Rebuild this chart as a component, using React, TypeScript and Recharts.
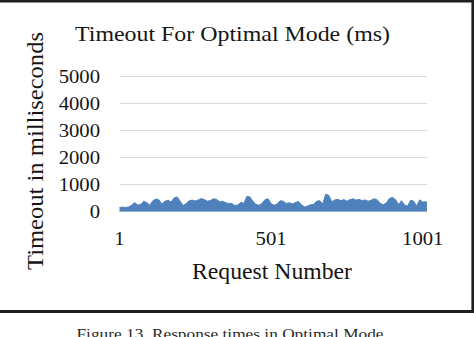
import React from 'react';
import { AreaChart, Area, XAxis, YAxis, CartesianGrid } from 'recharts';

const requestNumbers = [
  1, 11, 21, 31, 41, 51, 61, 71, 81, 91,
  101, 111, 121, 131, 141, 151, 161, 171, 181, 191,
  201, 211, 221, 231, 241, 251, 261, 271, 281, 291,
  301, 311, 321, 331, 341, 351, 361, 371, 381, 391,
  401, 411, 421, 431, 441, 451, 461, 471, 481, 491,
  501, 511, 521, 531, 541, 551, 561, 571, 581, 591,
  601, 611, 621, 631, 641, 651, 661, 671, 681, 691,
  701, 711, 721, 731, 741, 751, 761, 771, 781, 791,
  801, 811, 821, 831, 841, 851, 861, 871, 881, 891,
  901, 911, 921, 931, 941, 951, 961, 971, 981, 991,
  1001, 1011, 1015,
];

const timeoutMs = [
  150, 160, 150, 170, 230, 330, 240, 260, 380, 330,
  230, 400, 460, 430, 280, 380, 420, 350, 500, 540,
  380, 220, 300, 400, 420, 390, 430, 480, 440, 380,
  410, 470, 450, 360, 380, 330, 290, 300, 220, 240,
  340, 300, 560, 540, 380, 260, 230, 300, 440, 470,
  290, 230, 280, 400, 380, 300, 320, 280, 330, 370,
  250, 170, 200, 250, 260, 380, 400, 280, 640, 600,
  360, 430, 450, 400, 440, 380, 440, 470, 420, 450,
  400, 430, 380, 420, 470, 430, 300, 250, 320, 480,
  520, 440, 260, 400, 240, 200, 420, 380, 200, 430,
  350, 360, 340,
];

const xTicks = [1, 501, 1001];
const yTicks = [0, 1000, 2000, 3000, 4000, 5000];

const chartTitle = 'Timeout For Optimal Mode (ms)';
const xAxisTitle = 'Request Number';
const yAxisTitle = 'Timeout in milliseconds';
const caption = 'Figure 13. Response times in Optimal Mode';

const data = requestNumbers.map((r, i) => ({ request: r, timeout: timeoutMs[i] }));

const FONT = '"Liberation Serif", "Times New Roman", serif';
const TEXT = '#151515';
const BLUE = '#4f81bd';

const YTick = (props: any) => {
  const { x, y, payload } = props;
  return (
    <text
      x={0}
      y={0}
      transform={`translate(${x},${y + 6.5}) scale(1.15,1)`}
      textAnchor="end"
      fontFamily={FONT}
      fontSize={18}
      fill={TEXT}
    >
      {payload.value}
    </text>
  );
};

const XTick = (props: any) => {
  const { x, y, payload } = props;
  return (
    <text
      x={0}
      y={0}
      transform={`translate(${x},${y + 33.5}) scale(1.15,1)`}
      textAnchor="middle"
      fontFamily={FONT}
      fontSize={18}
      fill={TEXT}
    >
      {payload.value}
    </text>
  );
};

export default function App() {
  return (
    <div style={{ position: 'absolute', left: 0, top: 0, width: 474, height: 337, background: '#fff', overflow: 'hidden' }}>
      <AreaChart
        width={474}
        height={312}
        data={data}
        margin={{ top: 76.5, right: 47, bottom: 0, left: 0 }}
      >
        <CartesianGrid horizontal vertical={false} stroke="#d9d9d9" strokeWidth={1.2} />
        <XAxis
          dataKey="request"
          type="number"
          domain={[1, 1015]}
          ticks={xTicks}
          axisLine={false}
          tickLine={false}
          tickSize={0}
          tickMargin={0}
          height={100.5}
          tick={<XTick />}
          interval={0}
        />
        <YAxis
          type="number"
          domain={[0, 5000]}
          ticks={yTicks}
          axisLine={false}
          tickLine={false}
          tickSize={0}
          tickMargin={19.5}
          width={119.5}
          tick={<YTick />}
          interval={0}
        />
        <Area
          type="linear"
          dataKey="timeout"
          stroke={BLUE}
          strokeWidth={1}
          fill={BLUE}
          fillOpacity={1}
          isAnimationActive={false}
          dot={false}
          activeDot={false}
        />
      </AreaChart>
      <svg
        width={474}
        height={337}
        style={{ position: 'absolute', left: 0, top: 0, pointerEvents: 'none' }}
      >
        <line x1={0} y1={1.3} x2={474} y2={1.3} stroke="#1e1e1e" strokeWidth={2.6} />
        <line x1={472.7} y1={0} x2={472.7} y2={313} stroke="#1e1e1e" strokeWidth={2.6} />
        <line x1={0} y1={311.5} x2={474} y2={311.5} stroke="#1e1e1e" strokeWidth={3} />
        <text
          x={232.5}
          y={41}
          textAnchor="middle"
          fontFamily={FONT}
          fontSize={22}
          fill={TEXT}
          textLength={315}
          lengthAdjust="spacingAndGlyphs"
        >
          {chartTitle}
        </text>
        <text
          x={272}
          y={278.5}
          textAnchor="middle"
          fontFamily={FONT}
          fontSize={23}
          fill={TEXT}
          textLength={160}
          lengthAdjust="spacingAndGlyphs"
        >
          {xAxisTitle}
        </text>
        <text
          x={0}
          y={0}
          transform="translate(43,151) rotate(-90)"
          textAnchor="middle"
          fontFamily={FONT}
          fontSize={24}
          fill={TEXT}
          textLength={238}
          lengthAdjust="spacingAndGlyphs"
        >
          {yAxisTitle}
        </text>
        <text
          x={230}
          y={339}
          textAnchor="middle"
          fontFamily={FONT}
          fontSize={14}
          fill="#2a2a2a"
          textLength={307}
          lengthAdjust="spacingAndGlyphs"
        >
          {caption}
        </text>
      </svg>
    </div>
  );
}
